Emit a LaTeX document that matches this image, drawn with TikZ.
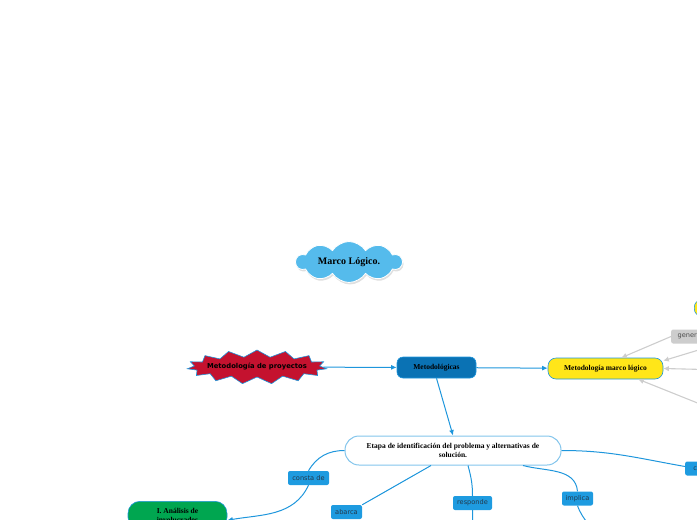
\documentclass[tikz,border=0pt]{standalone}
\usepackage{fontspec}
\setmainfont{Liberation Serif}
\newfontfamily\lblfont{DejaVu Sans}
\usetikzlibrary{shapes.symbols, positioning, arrows.meta, shadows}
\definecolor{linkblue}{HTML}{1E96DC}
\definecolor{cloudblue}{HTML}{55BBEC}
\definecolor{starred}{HTML}{C4122F}
\definecolor{metblue}{HTML}{0A72B4}
\definecolor{mlyellow}{HTML}{FFE619}
\definecolor{anagreen}{HTML}{00A650}
\definecolor{lblblue}{HTML}{1E9BE0}
\definecolor{lbltext}{HTML}{23384A}
\definecolor{greyline}{HTML}{CDCDCD}

\begin{document}
\begin{tikzpicture}[x=1pt, y=-1pt,
    link/.style={draw=linkblue, line width=1pt, -{Latex[length=5.5pt,width=5pt]}},
    plain/.style={draw=linkblue, line width=1pt},
    greylink/.style={draw=greyline, line width=1.1pt, -{Latex[length=5.5pt,width=5.5pt]}},
    lbl/.style={rectangle, fill=lblblue, rounded corners=2pt, text=lbltext, font=\lblfont\fontsize{6.6}{8}\selectfont, inner sep=0pt, minimum height=14pt},
    topic/.style={rectangle, draw=linkblue, line width=0.6pt, align=center, font=\bfseries\fontsize{7.5}{8.5}\selectfont}]
        \useasboundingbox (0,0) rectangle (697,520);
        \clip (0,0) rectangle (697,520);

        % Nodes
        \node (titulo) [cloud, cloud puffs=10, cloud puff arc=115, aspect=3.2, fill=cloudblue, draw=white, line width=0.8pt, minimum width=106pt, minimum height=36pt, inner sep=0pt, drop shadow={opacity=0.25, shadow xshift=1pt, shadow yshift=-2pt}, font=\bfseries\fontsize{10}{12}\selectfont] at (349,262) {Marco Lógico.};
        \node (proyectos) [starburst, starburst points=15, starburst point height=7pt, random starburst=0, fill=starred, draw=linkblue, line width=0.6pt, minimum width=140pt, minimum height=34pt, inner xsep=-12pt, inner ysep=1pt, font=\lblfont\bfseries\fontsize{6.8}{8}\selectfont] at (257,367) {Metodología de proyectos};
        \node (metodologicas) [topic, fill=metblue, minimum width=79pt, minimum height=21pt, rounded corners=6pt] at (436.5,367.5) {Metodológicas};
        \node (marco) [topic, fill=mlyellow, minimum width=115pt, minimum height=21pt, rounded corners=8pt] at (605.5,368.5) {Metodología marco lógico};
        \node (meta) [topic, fill=mlyellow, minimum width=60pt, minimum height=16pt, rounded corners=7pt, anchor=west] at (694,308) {};
        \node (etapa) [topic, draw=linkblue!55, line width=1pt, fill=white, minimum width=216pt, minimum height=29pt, rounded corners=14pt, inner sep=2pt] at (453,450.5) {Etapa de identificación del problema y alternativas de\\solución.};
        \node (analisis) [topic, fill=anagreen, minimum width=99pt, minimum height=28pt, rounded corners=12pt, inner sep=2pt, anchor=north] at (177.5,501) {I. Análisis de\\involucrados};

        % Labels
        \node (genera) [lbl, fill=greyline, text=black!70, minimum width=36pt, anchor=west] at (671,336.5) {genera};
        \node (consta) [lbl, minimum width=41pt] at (308.5,478) {consta de};
        \node (abarca) [lbl, minimum width=31pt] at (346.5,512) {abarca};
        \node (responde) [lbl, minimum width=39pt] at (472.5,503) {responde};
        \node (implica) [lbl, minimum width=31pt] at (577.5,498.5) {implica};
        \node (conlleva) [lbl, minimum width=44pt, anchor=west] at (685,468.5) {conlleva};

        % Free ends outside the frame
        \coordinate (g1) at (725,342);
        \coordinate (g2) at (725,370);
        \coordinate (g3) at (725,414);
        \coordinate (respEnd) at (473,540);
        \coordinate (implEnd) at (600,540);

        % Arrows
        \draw[link] (proyectos) -- (metodologicas);
        \draw[link] (metodologicas) -- (marco);
        \draw[link] (metodologicas.south) -- (etapa.north);
        \draw[plain] (etapa.west) to[out=180, in=60] (consta.north);
        \draw[link] (consta.south) to[out=-115, in=10] ([yshift=-5pt]analisis.east);
        \draw[plain] ([xshift=-22pt]etapa.south) -- (abarca.north east);
        \draw[plain] ([xshift=15pt]etapa.south) to[out=-75, in=90] (responde.north);
        \draw[plain] (responde.south) -- (respEnd);
        \draw[plain] ([xshift=70pt]etapa.south) to[out=-15, in=95] (implica.north);
        \draw[plain] (implica.south) to[out=-70, in=120] (implEnd);
        \draw[plain] (etapa.east) to[out=0, in=170] ([yshift=2pt]conlleva.west);

        % Flechas grises
        \draw[greylink] (genera.west) -- ([xshift=-42pt]marco.north east);
        \draw[greylink] (g1) -- ([yshift=-3pt]marco.north east);
        \draw[greylink] (g2) -- (marco.east);
        \draw[greylink] (g3) -- ([xshift=-25pt]marco.south east);
\end{tikzpicture}
\end{document}
